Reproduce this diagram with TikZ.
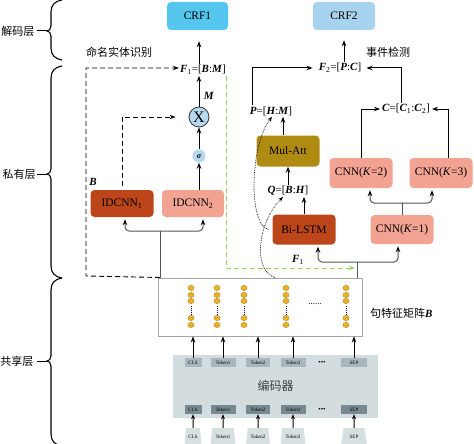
\documentclass[tikz,border=0pt]{standalone}
\usepackage{fontspec}
\setmainfont{Liberation Serif}
\newfontfamily\cjk{Noto Sans CJK SC}
\usetikzlibrary{arrows.meta,shapes.geometric,calc}
\definecolor{crfa}{HTML}{55C6EE}
\definecolor{crfb}{HTML}{A7D3EE}
\definecolor{darkor}{HTML}{BC4519}
\definecolor{salmon}{HTML}{F2A392}
\definecolor{olivec}{HTML}{B08B12}
\definecolor{circc}{HTML}{B5DAF0}
\definecolor{dotc}{HTML}{E9B126}
\definecolor{encbg}{HTML}{D3DDE0}
\definecolor{toktop}{HTML}{A9B6BB}
\definecolor{tokbot}{HTML}{78898F}
\definecolor{inpc}{HTML}{D6DFE2}
\definecolor{forkc}{HTML}{555555}
\definecolor{grn}{HTML}{96D45A}
\newcommand{\bi}[1]{\textbf{\textit{#1}}}
\newcommand{\mybrace}[3]{%
  \draw[line width=1.1pt] (62,#1) .. controls (55,#1+1) and (51,#1+5) .. (51,#1+12)
    -- (51,#3-5) .. controls (51,#3-2) and (49,#3) .. (47,#3)
    .. controls (49,#3) and (51,#3+2) .. (51,#3+5)
    -- (51,#2-12) .. controls (51,#2-5) and (55,#2-1) .. (62,#2);}
\begin{document}
\begin{tikzpicture}[x=1pt,y=-1pt,
  mbox/.style={rounded corners=4pt, inner sep=0pt, minimum width=63pt, minimum height=28pt, font=\fontsize{11.5}{12}\selectfont},
  lab/.style={inner sep=1pt, font=\fontsize{11}{12}\selectfont},
  cjklab/.style={inner sep=1pt, font=\cjk\fontsize{11}{12}\selectfont},
  arr/.style={-{Stealth[length=6pt,width=4.5pt]}, line width=1pt},
  farr/.style={draw=forkc, line width=1pt, rounded corners=4pt, -{Stealth[length=6pt,width=4.5pt,color=black]}},
  fline/.style={draw=forkc, line width=1pt},
  dline/.style={dash pattern=on 5pt off 3pt, line width=0.9pt},
  dcurve/.style={densely dotted, line width=0.7pt, -{Stealth[length=5pt,width=4pt]}},
  tok/.style={inner sep=0pt, minimum height=9pt, font=\fontsize{5}{5}\selectfont},
]
\useasboundingbox (0,0) rectangle (474,444);

% braces and layer labels
\mybrace{0}{60}{31}
\mybrace{66}{278}{174}
\mybrace{278}{446}{361}
\draw[line width=1pt] (37,31) -- (47,31);
\draw[line width=1pt] (37,174) -- (47,174);
\draw[line width=1pt] (37,361) -- (47,361);
\node[cjklab] (l1) at (18,31) {解码层};
\node[cjklab] (l2) at (19,174) {私有层};
\node[cjklab] (l3) at (17,361) {共享层};

% top
\node[mbox, fill=crfa, minimum width=61pt] (crf1) at (197.5,16) {CRF1};
\node[mbox, fill=crfb, minimum width=62pt] (crf2) at (344,16) {CRF2};
\node[cjklab] (ner) at (119,52) {命名实体识别};
\node[cjklab] (ed) at (388,52) {事件检测};

% left task
\node[lab] (f1) at (203,70) {\bi{F}\textsubscript{1}=[\bi{B}:\bi{M}]};
\node[circle, draw=black!80, fill=circc, minimum size=20pt, inner sep=0pt, line width=0.8pt] (mult) at (199,117) {\fontsize{16}{16}\selectfont X};
\node[circle, fill=circc, minimum size=13pt, inner sep=0pt] (sig) at (199,156) {\fontsize{8}{8}\selectfont\bi{σ}};
\node[lab] (mlab) at (209,96) {\bi{M}};
\node[mbox, fill=darkor, minimum height=27pt] (id1) at (122,203.5) {IDCNN\textsubscript{1}};
\node[mbox, fill=salmon, minimum width=62pt, minimum height=27pt] (id2) at (193,203.5) {IDCNN\textsubscript{2}};
\node[lab] (blab) at (93,182) {\bi{B}};

% right task
\node[lab] (f2) at (340,68) {\bi{F}\textsubscript{2}=[\bi{P}:\bi{C}]};
\node[lab] (p) at (271,111) {\bi{P}=[\bi{H}:\bi{M}]};
\node[lab] (c) at (406,109) {\bi{C}=[\bi{C}\textsubscript{1}:\bi{C}\textsubscript{2}]};
\node[mbox, fill=olivec, minimum height=31pt] (ma) at (288,151) {Mul-Att};
\node[lab] (q) at (288,191) {\bi{Q}=[\bi{B}:\bi{H}]};
\node[mbox, fill=darkor, minimum height=30pt] (bl) at (304,229.5) {Bi-LSTM};
\node[mbox, fill=salmon, minimum height=29pt] (k1) at (402,229.5) {CNN(\textit{K}=1)};
\node[mbox, fill=salmon, minimum height=30pt] (k2) at (361,173) {CNN(\textit{K}=2)};
\node[mbox, fill=salmon, minimum height=30pt] (k3) at (441,173) {CNN(\textit{K}=3)};
\node[lab] (f1b) at (298,260) {\bi{F}\textsubscript{1}};

% shared feature matrix
\node[draw=gray!70, fill=white, minimum width=204pt, minimum height=58pt, inner sep=0pt, line width=0.8pt] (mat) at (260,307) {};
\foreach \x in {191,217,244,286,346} {
  \foreach \y in {288,295,301,318,325}
    \filldraw[fill=dotc, draw=dotc!70!black, line width=0.3pt] (\x,\y) ellipse (3.2pt and 2.6pt);
  \draw[densely dotted, line width=0.9pt, blue!30!black] (\x,306) -- (\x,314);
}
\node[inner sep=0pt, font=\fontsize{9}{9}\selectfont] (mdots) at (315,304) {......};
\node[inner sep=1pt, anchor=west, font=\fontsize{11}{12}\selectfont] (matlab) at (369,313) {{\cjk 句特征矩阵}\bi{B}};

% encoder
\node[fill=encbg, minimum width=205pt, minimum height=63pt, inner sep=0pt, text=black!75, font=\cjk\fontsize{12}{12}\selectfont] (enc) at (275.5,386) {编码器};
\foreach \n/\x/\w/\t in {cls/193/17/CLS, ta/223/25/Token1, tb/258/24/Token2, tc/293/25/Token3, sep/354/26/SEP} {
  \node[tok, fill=toktop, minimum width=\w pt] (top\n) at (\x,362.5) {\t};
  \node[tok, fill=tokbot, minimum width=\w pt] (bot\n) at (\x,409.5) {\t};
  \node[trapezium, trapezium left angle=76, trapezium right angle=76, trapezium stretches=true, fill=inpc, minimum width=\w pt, minimum height=17pt, inner sep=1pt, font=\fontsize{5}{5}\selectfont] (in\n) at (\x,436.5) {\t};
  \draw[arr, -{Stealth[length=5pt,width=4pt]}] (in\n.north) -- (bot\n.south);
  \draw[arr] (top\n.north) -- (top\n.north |- mat.south);
}
\node[inner sep=0pt, font=\fontsize{7}{7}\selectfont] (d1) at (322,362.5) {•••};
\node[inner sep=0pt, font=\fontsize{7}{7}\selectfont] (d2) at (322,409.5) {•••};

% left connectors
\draw[arr, shorten >=11pt] (f1.north -| mult) -- (crf1.south -| mult);
\draw[arr] (mult.north) -- (mult.north |- f1.south);
\draw[arr] (sig.north) -- (mult.south);
\draw[arr] (sig.south |- id2.north) -- (sig.south);
\draw[dline, -{Stealth[length=6pt,width=4.5pt]}, shorten <=4pt, shorten >=13pt] (id1.north) -- (id1.north |- mult.west) -- (mult.west);
\coordinate (b1) at (160,277.5);
\draw[dline, -{Stealth[length=6pt,width=4.5pt]}] (b1) -- (86,276) -- (86,68) -- (f1.west |- 0,68);
\draw[fline] (b1) -- (160,231);
\draw[farr, shorten >=2pt] (160,231) -| ([xshift=3pt]id1.south);
\draw[farr, shorten >=2pt] (160,231) -| ([xshift=10pt]id2.south);

% green dashed F1
\coordinate (g1) at (355,268);
\draw[grn, dline, -{Stealth[length=6pt,width=4.5pt]}] ([xshift=-1pt]f1.south east) -- ([xshift=-1pt]f1.south east |- g1) -- (g1);

% right connectors
\coordinate (b2) at (357,277.5);
\draw[fline] (b2) -- (357,262);
\draw[farr, shorten >=2pt] (357,262) -| ([xshift=14pt]bl.south);
\draw[farr, shorten >=2pt] (357,262) -| ([xshift=-4pt]k1.south);
\draw[fline] (k1.north) -- (402,203);
\draw[farr, shorten >=2pt] (402,203) -| ([xshift=9pt]k2.south);
\draw[farr, shorten >=2pt] (402,203) -| ([xshift=-9pt]k3.south);

\draw[arr] (bl.north) -- (bl.north |- q.south);
\draw[arr] (q.north) -- (ma.south);
\draw[arr] ([xshift=-5pt]ma.north) -- ([xshift=-5pt]ma.north |- p.south);
\draw[arr, shorten >=5pt] ([xshift=4pt]p.north west) |- (f2.west);
\draw[arr, shorten >=4pt] ([xshift=-5pt]c.north) |- (f2.east);
\draw[arr, shorten >=1pt] (k2.north) |- (c.west);
\draw[arr, shorten >=1pt] ([xshift=7pt]k3.north) |- (c.east);
\draw[arr, shorten >=10pt] (f2.north -| crf2) -- (crf2.south);

% dotted curves
\draw[dcurve] ([xshift=-4pt]bl.west) .. controls (248,224) and (250,145) .. ([xshift=1pt]p.south);
\coordinate (mq) at (275,277.5);
\draw[dcurve] (mq) .. controls (252,270) and (258,222) .. ([xshift=-5pt]q.south);
\end{tikzpicture}
\end{document}
